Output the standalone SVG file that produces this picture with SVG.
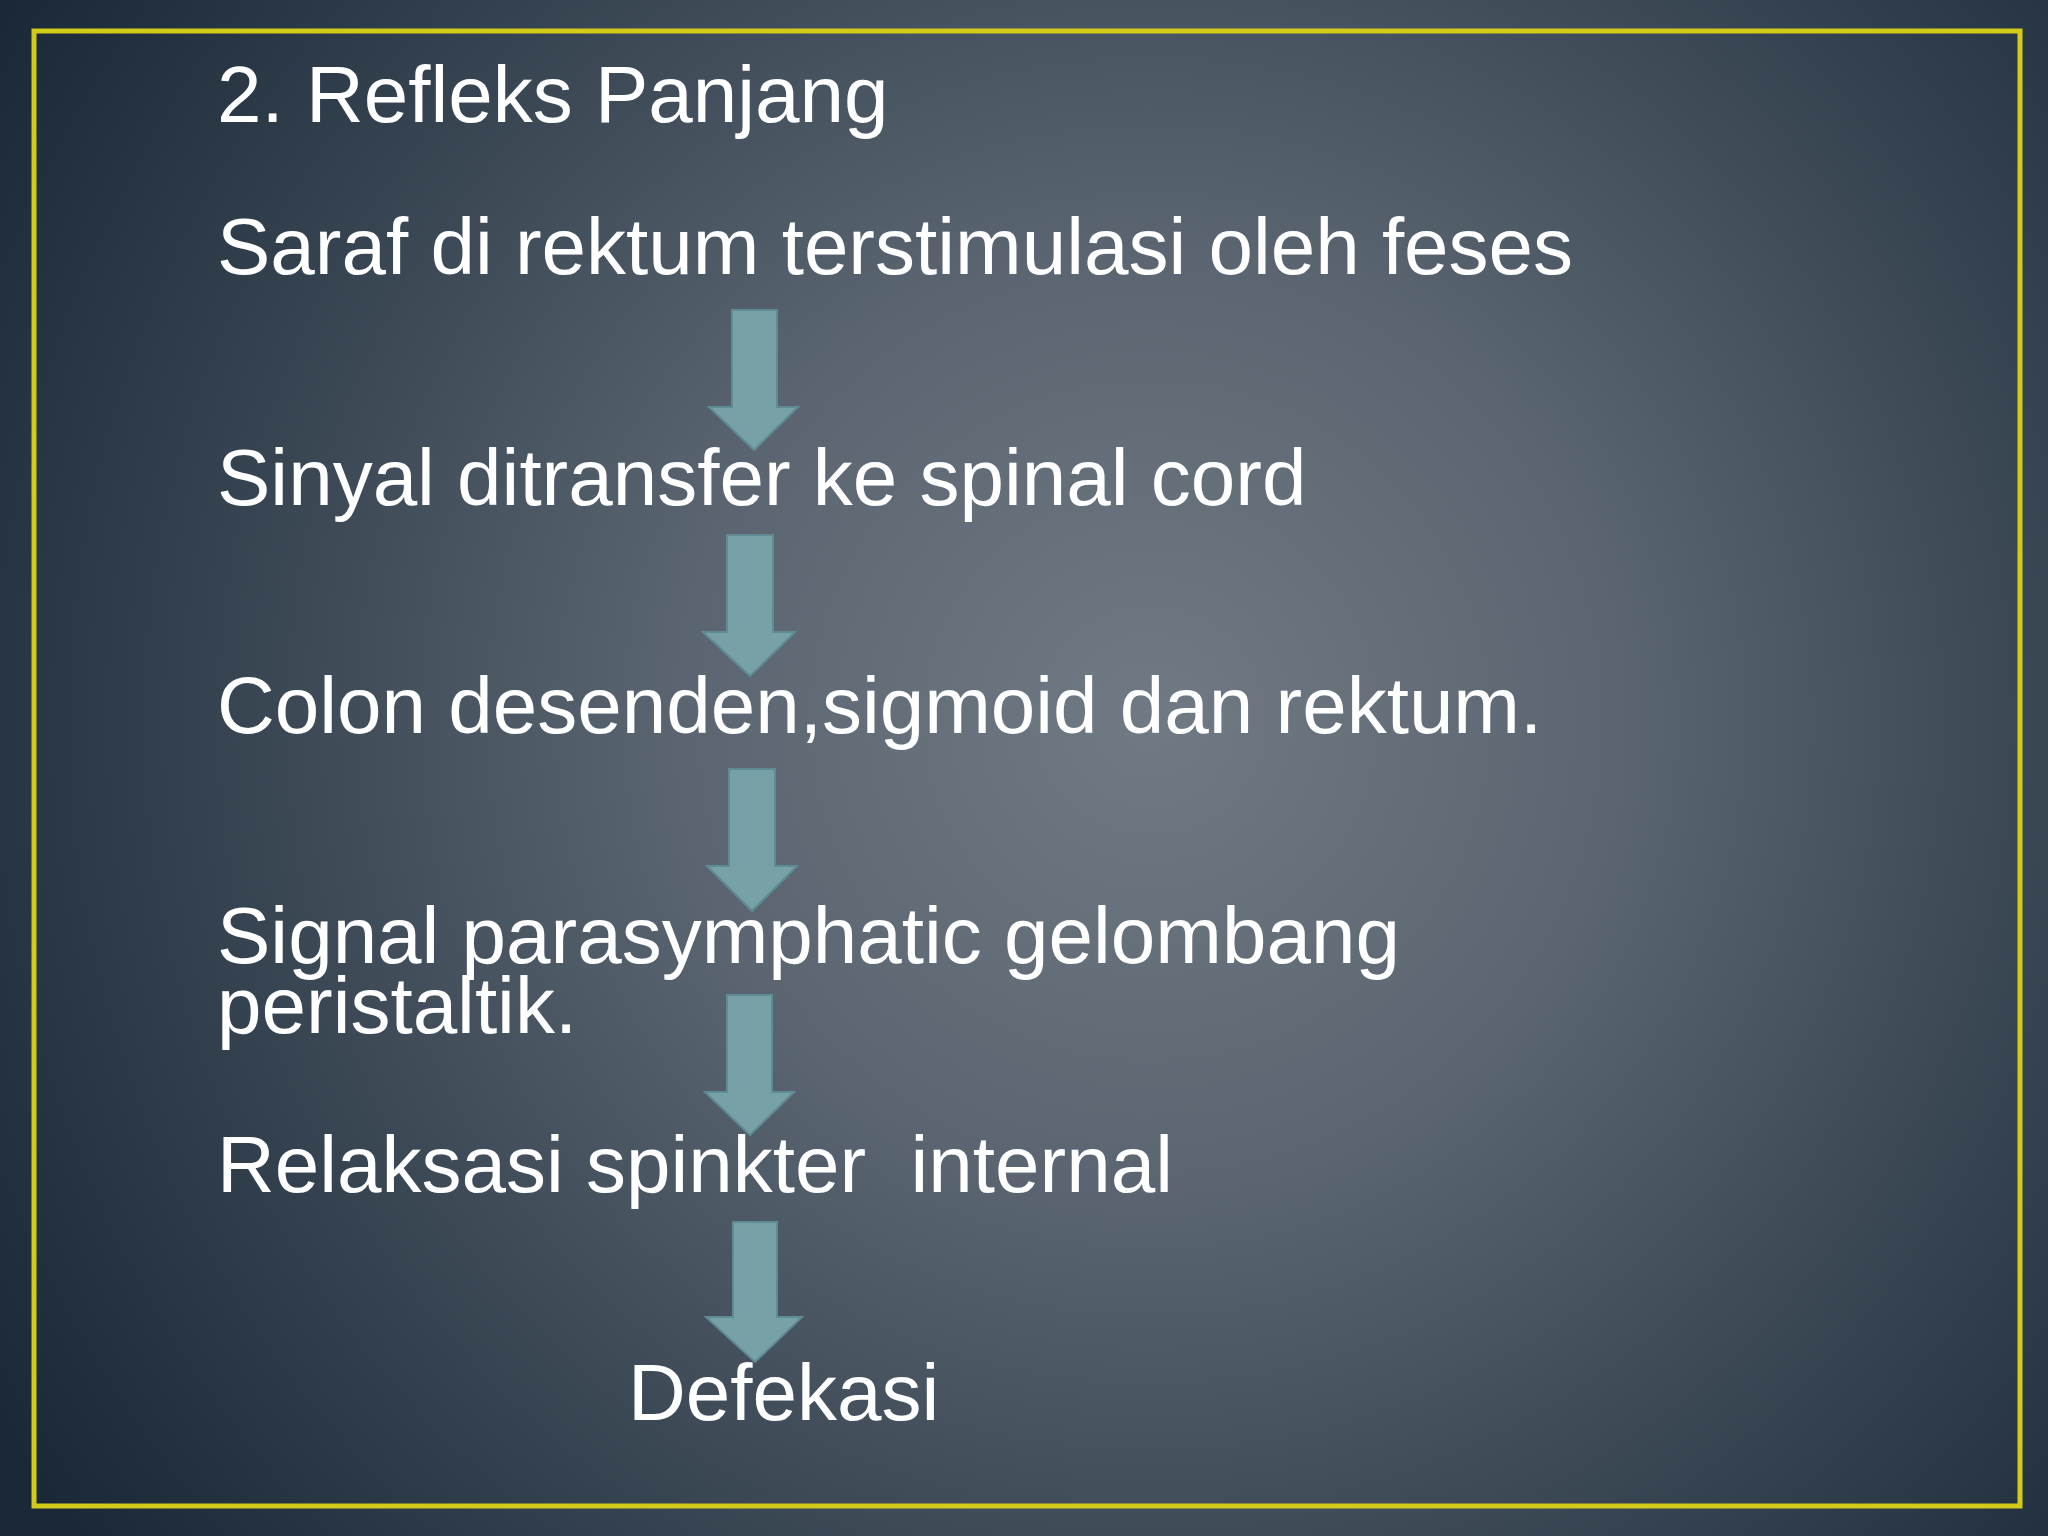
<svg xmlns="http://www.w3.org/2000/svg" width="2048" height="1536" viewBox="0 0 2048 1536">
<defs>
<radialGradient id="bg" cx="1150" cy="720" r="1350" gradientUnits="userSpaceOnUse">
<stop offset="0" stop-color="#707a84"/>
<stop offset="0.35" stop-color="#5a6571"/>
<stop offset="0.7" stop-color="#35424f"/>
<stop offset="1" stop-color="#1a2837"/>
</radialGradient>
<style>
.t{font-family:"Liberation Sans",Arial,sans-serif;font-size:80px;fill:#ffffff}
.arr{fill:#77a0a7;stroke:#5f8c94;stroke-width:2;stroke-linejoin:miter}
</style>
</defs>
<rect width="2048" height="1536" fill="url(#bg)"/>
<rect x="34" y="31" width="1986" height="1475" fill="none" stroke="#d2cb18" stroke-width="5"/>
<g id="title"><text class="t" x="217" y="122">2. Refleks Panjang</text></g>
<g id="n1"><text class="t" x="217" y="274">Saraf di rektum terstimulasi oleh feses</text></g>
<g id="n2"><text class="t" x="217" y="505">Sinyal ditransfer ke spinal cord</text></g>
<g id="n3"><text class="t" x="217" y="733">Colon desenden,sigmoid dan rektum.</text></g>
<g id="n4"><text class="t" x="217" y="963">Signal parasymphatic gelombang</text><text class="t" x="217" y="1033">peristaltik.</text></g>
<g id="n5"><text class="t" x="217" y="1192" xml:space="preserve">Relaksasi spinkter  internal</text></g>
<g id="n6"><text class="t" x="628" y="1420">Defekasi</text></g>
<g id="connectors">
<polygon class="arr" points="732,310 777,310 777,407 798,407 754,450 709,407 732,407"/>
<polygon class="arr" points="727,535 773,535 773,632 795,632 750,676 703,632 727,632"/>
<polygon class="arr" points="729,769 775,769 775,866 797,866 752,911 707,866 729,866"/>
<polygon class="arr" points="727,995 772,995 772,1092 794,1092 750,1135 705,1092 727,1092"/>
<polygon class="arr" points="733,1222 777,1222 777,1317 802,1317 755,1362 706,1317 733,1317"/>
</g>
</svg>
